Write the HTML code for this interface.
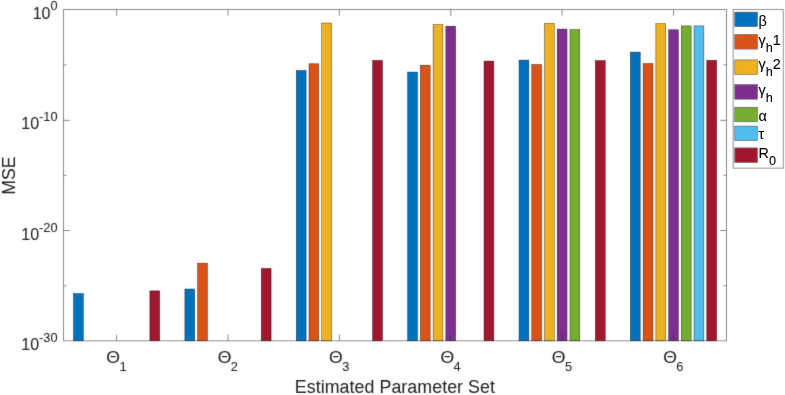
<!DOCTYPE html>
<html><head><meta charset="utf-8"><style>
html,body{margin:0;padding:0;background:#fff;width:785px;height:395px;overflow:hidden;position:relative}
</style></head><body>
<svg width="785" height="395" viewBox="0 0 785 395" style="position:absolute;left:0;top:0">
<defs><filter id="bl" x="-5%" y="-5%" width="110%" height="110%"><feConvolveMatrix order="3" kernelMatrix="0.0100 0.0800 0.0100 0.0800 0.6400 0.0800 0.0100 0.0800 0.0100" edgeMode="duplicate" preserveAlpha="false"/></filter></defs><g filter="url(#bl)">
<g stroke="#000" stroke-opacity="0.8" stroke-width="0.5">
<rect x="73.51" y="293.60" width="9.80" height="47.20" fill="#0072BD"/>
<rect x="149.89" y="290.90" width="9.80" height="49.90" fill="#A2142F"/>
<rect x="184.89" y="289.00" width="9.80" height="51.80" fill="#0072BD"/>
<rect x="197.62" y="263.20" width="9.80" height="77.60" fill="#D95319"/>
<rect x="261.27" y="268.50" width="9.80" height="72.30" fill="#A2142F"/>
<rect x="296.27" y="70.50" width="9.80" height="270.30" fill="#0072BD"/>
<rect x="309.00" y="63.80" width="9.80" height="277.00" fill="#D95319"/>
<rect x="321.73" y="23.05" width="9.80" height="317.75" fill="#EDB120"/>
<rect x="372.65" y="60.40" width="9.80" height="280.40" fill="#A2142F"/>
<rect x="407.65" y="72.10" width="9.80" height="268.70" fill="#0072BD"/>
<rect x="420.38" y="65.20" width="9.80" height="275.60" fill="#D95319"/>
<rect x="433.11" y="24.60" width="9.80" height="316.20" fill="#EDB120"/>
<rect x="445.84" y="26.20" width="9.80" height="314.60" fill="#7E2F8E"/>
<rect x="484.03" y="61.10" width="9.80" height="279.70" fill="#A2142F"/>
<rect x="519.03" y="60.10" width="9.80" height="280.70" fill="#0072BD"/>
<rect x="531.76" y="64.50" width="9.80" height="276.30" fill="#D95319"/>
<rect x="544.49" y="23.40" width="9.80" height="317.40" fill="#EDB120"/>
<rect x="557.22" y="29.10" width="9.80" height="311.70" fill="#7E2F8E"/>
<rect x="569.95" y="29.60" width="9.80" height="311.20" fill="#77AC30"/>
<rect x="595.41" y="60.60" width="9.80" height="280.20" fill="#A2142F"/>
<rect x="630.41" y="52.10" width="9.80" height="288.70" fill="#0072BD"/>
<rect x="643.14" y="63.60" width="9.80" height="277.20" fill="#D95319"/>
<rect x="655.87" y="23.60" width="9.80" height="317.20" fill="#EDB120"/>
<rect x="668.60" y="29.80" width="9.80" height="311.00" fill="#7E2F8E"/>
<rect x="681.33" y="25.90" width="9.80" height="314.90" fill="#77AC30"/>
<rect x="694.06" y="25.90" width="9.80" height="314.90" fill="#4DBEEE"/>
<rect x="706.79" y="60.30" width="9.80" height="280.50" fill="#A2142F"/>
</g>
<g stroke="#262626" stroke-opacity="0.52" stroke-width="1" fill="none">
<rect x="63.5" y="9.5" width="663.00" height="331.30"/>
<line x1="116.60" y1="340.8" x2="116.60" y2="334.5"/>
<line x1="116.60" y1="9.5" x2="116.60" y2="15.8"/>
<line x1="227.98" y1="340.8" x2="227.98" y2="334.5"/>
<line x1="227.98" y1="9.5" x2="227.98" y2="15.8"/>
<line x1="339.36" y1="340.8" x2="339.36" y2="334.5"/>
<line x1="339.36" y1="9.5" x2="339.36" y2="15.8"/>
<line x1="450.74" y1="340.8" x2="450.74" y2="334.5"/>
<line x1="450.74" y1="9.5" x2="450.74" y2="15.8"/>
<line x1="562.12" y1="340.8" x2="562.12" y2="334.5"/>
<line x1="562.12" y1="9.5" x2="562.12" y2="15.8"/>
<line x1="673.50" y1="340.8" x2="673.50" y2="334.5"/>
<line x1="673.50" y1="9.5" x2="673.50" y2="15.8"/>
<line x1="63.5" y1="120.40" x2="69.8" y2="120.40"/>
<line x1="726.5" y1="120.40" x2="720.2" y2="120.40"/>
<line x1="63.5" y1="230.50" x2="69.8" y2="230.50"/>
<line x1="726.5" y1="230.50" x2="720.2" y2="230.50"/>
<line x1="63.5" y1="64.80" x2="66.5" y2="64.80"/>
<line x1="726.5" y1="64.80" x2="723.5" y2="64.80"/>
<line x1="63.5" y1="175.30" x2="66.5" y2="175.30"/>
<line x1="726.5" y1="175.30" x2="723.5" y2="175.30"/>
<line x1="63.5" y1="285.80" x2="66.5" y2="285.80"/>
<line x1="726.5" y1="285.80" x2="723.5" y2="285.80"/>
</g>
<g font-family='"Liberation Sans", Arial, Helvetica, sans-serif' fill="#262626" stroke="#262626" stroke-width="0.06">
<text x="57.6" y="18.60" text-anchor="end" font-size="16">10<tspan font-size="12.8" dy="-8.3">0</tspan></text>
<text x="57.6" y="129.30" text-anchor="end" font-size="16">10<tspan font-size="12.8" dy="-8.3">-10</tspan></text>
<text x="57.6" y="240.20" text-anchor="end" font-size="16">10<tspan font-size="12.8" dy="-8.3">-20</tspan></text>
<text x="57.6" y="350.40" text-anchor="end" font-size="16">10<tspan font-size="12.8" dy="-8.3">-30</tspan></text>
<text transform="translate(113.10,362.6) scale(1.1,1)" text-anchor="middle" font-size="16">&#920;</text>
<text x="123.00" y="370.9" text-anchor="middle" font-size="12.8">1</text>
<text transform="translate(224.48,362.6) scale(1.1,1)" text-anchor="middle" font-size="16">&#920;</text>
<text x="234.38" y="370.9" text-anchor="middle" font-size="12.8">2</text>
<text transform="translate(335.86,362.6) scale(1.1,1)" text-anchor="middle" font-size="16">&#920;</text>
<text x="345.76" y="370.9" text-anchor="middle" font-size="12.8">3</text>
<text transform="translate(447.24,362.6) scale(1.1,1)" text-anchor="middle" font-size="16">&#920;</text>
<text x="457.14" y="370.9" text-anchor="middle" font-size="12.8">4</text>
<text transform="translate(558.62,362.6) scale(1.1,1)" text-anchor="middle" font-size="16">&#920;</text>
<text x="568.52" y="370.9" text-anchor="middle" font-size="12.8">5</text>
<text transform="translate(670.00,362.6) scale(1.1,1)" text-anchor="middle" font-size="16">&#920;</text>
<text x="679.90" y="370.9" text-anchor="middle" font-size="12.8">6</text>
<text x="394.9" y="392.5" text-anchor="middle" font-size="17.8" letter-spacing="0.07">Estimated Parameter Set</text>
<text transform="translate(14.9,175.6) rotate(-90)" text-anchor="middle" font-size="17.6">MSE</text>
</g>
<rect x="733.2" y="9.5" width="50.09999999999991" height="158.7" fill="#fff" stroke="#8e8e8e" stroke-width="1"/>
<rect x="734.8" y="12.10" width="22.7" height="14.6" fill="#0072BD" stroke="#000" stroke-opacity="0.75" stroke-width="0.5"/>
<rect x="734.8" y="34.50" width="22.7" height="14.6" fill="#D95319" stroke="#000" stroke-opacity="0.75" stroke-width="0.5"/>
<rect x="734.8" y="59.90" width="22.7" height="14.6" fill="#EDB120" stroke="#000" stroke-opacity="0.75" stroke-width="0.5"/>
<rect x="734.8" y="84.60" width="22.7" height="14.6" fill="#7E2F8E" stroke="#000" stroke-opacity="0.75" stroke-width="0.5"/>
<rect x="734.8" y="107.20" width="22.7" height="14.6" fill="#77AC30" stroke="#000" stroke-opacity="0.75" stroke-width="0.5"/>
<rect x="734.8" y="126.10" width="22.7" height="14.6" fill="#4DBEEE" stroke="#000" stroke-opacity="0.75" stroke-width="0.5"/>
<rect x="734.8" y="147.90" width="22.7" height="14.6" fill="#A2142F" stroke="#000" stroke-opacity="0.75" stroke-width="0.5"/>
</g>
<g font-family='"Liberation Sans", Arial, Helvetica, sans-serif' fill="#000" stroke="#000" stroke-width="0.1" font-size="14.4">
<text x="758.6" y="25.60">&#946;</text>
<text x="758.6" y="44.70">&#947;<tspan font-size="12.7" dy="7">h</tspan><tspan dy="-7">1</tspan></text>
<text x="758.6" y="69.40">&#947;<tspan font-size="12.7" dy="7">h</tspan><tspan dy="-7">2</tspan></text>
<text x="758.6" y="95.00">&#947;<tspan font-size="12.7" dy="7">h</tspan></text>
<text x="758.6" y="120.50">&#945;</text>
<text x="758.6" y="139.00">&#964;</text>
<text x="758.6" y="157.80">R<tspan font-size="12.7" dy="7">0</tspan></text>
</g>
</svg>
</body></html>
